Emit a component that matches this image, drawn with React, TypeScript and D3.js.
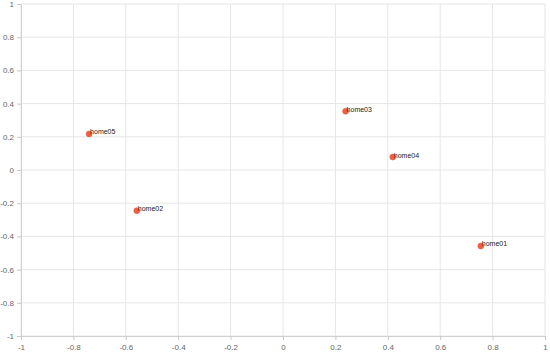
import * as d3 from 'd3';
import React, { useEffect, useRef } from 'react';

const names = ['home01', 'home02', 'home03', 'home04', 'home05'];
const xValues = [0.755, -0.558, 0.239, 0.419, -0.74];
const yValues = [-0.458, -0.245, 0.354, 0.078, 0.217];
const tickValues = [-1, -0.8, -0.6, -0.4, -0.2, 0, 0.2, 0.4, 0.6, 0.8, 1];

const App: React.FC = () => {
  const ref = useRef<SVGSVGElement | null>(null);

  useEffect(() => {
    if (!ref.current) return;
    const root = d3.select(ref.current);
    root.selectAll('*').remove();

    const margin = { top: 4, right: 5, bottom: 16, left: 21 };
    const width = 550 - margin.left - margin.right;
    const height = 352 - margin.top - margin.bottom;

    const g = root.append('g').attr('transform', `translate(${margin.left},${margin.top})`);

    const x = d3.scaleLinear().domain([-1, 1]).range([0, width]);
    const y = d3.scaleLinear().domain([-1, 1]).range([height, 0]);

    // grid
    g.append('g')
      .selectAll('line')
      .data(tickValues)
      .enter()
      .append('line')
      .attr('x1', (d) => x(d))
      .attr('x2', (d) => x(d))
      .attr('y1', 0)
      .attr('y2', height)
      .attr('stroke', '#e6e6e6');

    g.append('g')
      .selectAll('line')
      .data(tickValues)
      .enter()
      .append('line')
      .attr('x1', 0)
      .attr('x2', width)
      .attr('y1', (d) => y(d))
      .attr('y2', (d) => y(d))
      .attr('stroke', '#e6e6e6');

    const fmt = (d: d3.NumberValue) => String(+d);

    const xAxis = g
      .append('g')
      .attr('transform', `translate(0,${height})`)
      .call(d3.axisBottom(x).tickValues(tickValues).tickFormat(fmt).tickSize(4).tickSizeOuter(0));
    const yAxis = g
      .append('g')
      .call(d3.axisLeft(y).tickValues(tickValues).tickFormat(fmt).tickSize(4).tickSizeOuter(0));

    [xAxis, yAxis].forEach((a) => {
      a.select('.domain').attr('stroke', '#d0d0d0');
      a.selectAll('.tick line').attr('stroke', '#c8c8c8');
      a.selectAll('.tick text')
        .attr('fill', '#666')
        .style('font-family', 'Arial, "Liberation Sans", sans-serif')
        .style('font-size', '8px');
    });
    xAxis.selectAll('.tick text').attr('dy', '0.9em');

    const data = names.map((n, i) => ({ name: n, x: xValues[i], y: yValues[i] }));

    g.selectAll('circle.pt')
      .data(data)
      .enter()
      .append('circle')
      .attr('class', 'pt')
      .attr('cx', (d) => x(d.x))
      .attr('cy', (d) => y(d.y))
      .attr('r', 3)
      .attr('fill', '#f0603e')
      .attr('stroke', '#e8553a')
      .attr('stroke-width', 0.5);

    g.selectAll('text.lbl')
      .data(data)
      .enter()
      .append('text')
      .attr('class', 'lbl')
      .attr('x', (d) => x(d.x) + 1)
      .attr('y', (d) => y(d.y) - 2)
      .attr('dy', '0.35em')
      .attr('fill', '#222')
      .style('font-family', 'Arial, "Liberation Sans", sans-serif')
      .style('font-size', '7px')
      .text((d) => d.name);
  }, []);

  return (
    <svg
      ref={ref}
      width={550}
      height={352}
      style={{ position: 'absolute', left: 0, top: 0, background: '#fff' }}
    />
  );
};

export default App;
